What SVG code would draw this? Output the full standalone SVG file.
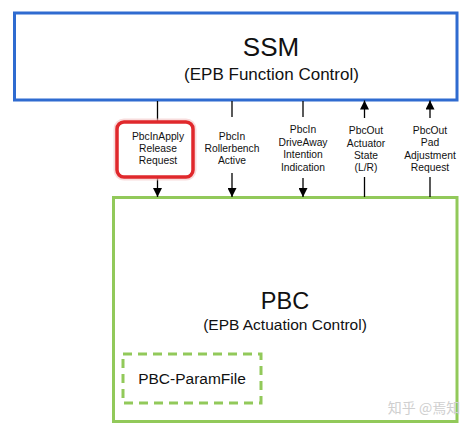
<svg xmlns="http://www.w3.org/2000/svg" width="474" height="431" viewBox="0 0 474 431">
<defs>
<marker id="ah" viewBox="0 0 10 10" refX="10" refY="5" markerWidth="10" markerHeight="9" markerUnits="userSpaceOnUse" orient="auto">
<path d="M0,0 L10,5 L0,10 z" fill="#000"/>
</marker>
<style>
text{font-family:"Liberation Sans",Arial,sans-serif;fill:#111}
.lbl{font-size:10.3px;text-anchor:middle}
.ln{stroke:#000;stroke-width:1.3;fill:none}
.arr{stroke:#000;stroke-width:1.3;fill:none;marker-end:url(#ah)}
</style>
</defs>
<rect width="474" height="431" fill="#fff"/>
<g id="ssm">
<rect x="14.5" y="13" width="442.5" height="87" fill="#fff" stroke="#2f6bd0" stroke-width="3"/>
<text x="271" y="56" font-size="26" text-anchor="middle">SSM</text>
<text x="271.5" y="80" font-size="17" text-anchor="middle">(EPB Function Control)</text>
</g>
<g id="pbc">
<rect x="113.5" y="197.5" width="343.5" height="224" fill="#fff" stroke="#92c95a" stroke-width="3"/>
<text x="285" y="309" font-size="23.5" text-anchor="middle">PBC</text>
<text x="285" y="330" font-size="15.5" text-anchor="middle">(EPB Actuation Control)</text>
</g>
<g id="paramfile">
<rect x="123" y="354" width="138" height="49" fill="none" stroke="#92c95a" stroke-width="3" stroke-dasharray="9,6"/>
<text x="192" y="384" font-size="15.5" text-anchor="middle">PBC-ParamFile</text>
</g>
<g id="connectors">
<line class="ln" x1="157.5" y1="101" x2="157.5" y2="122"/>
<line class="arr" x1="157.5" y1="177" x2="157.5" y2="197"/>
<line class="ln" x1="232" y1="101" x2="232" y2="117"/>
<line class="arr" x1="232" y1="173" x2="232" y2="197"/>
<line class="ln" x1="303" y1="101" x2="303" y2="117"/>
<line class="arr" x1="303" y1="178" x2="303" y2="197"/>
<line class="arr" x1="364.5" y1="118" x2="364.5" y2="100.5"/>
<line class="ln" x1="364.5" y1="177" x2="364.5" y2="197"/>
<line class="arr" x1="430" y1="118" x2="430" y2="100.5"/>
<line class="ln" x1="430" y1="177" x2="430" y2="197"/>
</g>
<g id="sig-apply">
<rect x="117" y="122" width="76" height="55" rx="7" fill="none" stroke="#f3c4c4" stroke-width="7" opacity="0.6"/>
<rect x="117" y="122" width="76" height="55" rx="7" fill="#fff" stroke="#e0282c" stroke-width="3.5"/>
<text class="lbl" x="158" y="139.5">PbcInApply</text>
<text class="lbl" x="158" y="152">Release</text>
<text class="lbl" x="158" y="164">Request</text>
</g>
<g id="sig-roller">
<text class="lbl" x="232" y="139.5">PbcIn</text>
<text class="lbl" x="232" y="152">Rollerbench</text>
<text class="lbl" x="232" y="164">Active</text>
</g>
<g id="sig-drive">
<text class="lbl" x="303" y="133">PbcIn</text>
<text class="lbl" x="303" y="145.5">DriveAway</text>
<text class="lbl" x="303" y="158">Intention</text>
<text class="lbl" x="303" y="170.5">Indication</text>
</g>
<g id="sig-actuator">
<text class="lbl" x="366" y="134">PbcOut</text>
<text class="lbl" x="366" y="146.5">Actuator</text>
<text class="lbl" x="366" y="158.5">State</text>
<text class="lbl" x="366" y="171">(L/R)</text>
</g>
<g id="sig-pad">
<text class="lbl" x="430" y="133.5">PbcOut</text>
<text class="lbl" x="430" y="146">Pad</text>
<text class="lbl" x="430" y="158.5">Adjustment</text>
<text class="lbl" x="430" y="171">Request</text>
</g>
<text x="424" y="413" font-size="14" text-anchor="middle" style="fill:#cfcfcf;font-family:'Noto Sans CJK SC','Liberation Sans',sans-serif">知乎 @焉知</text>
</svg>
